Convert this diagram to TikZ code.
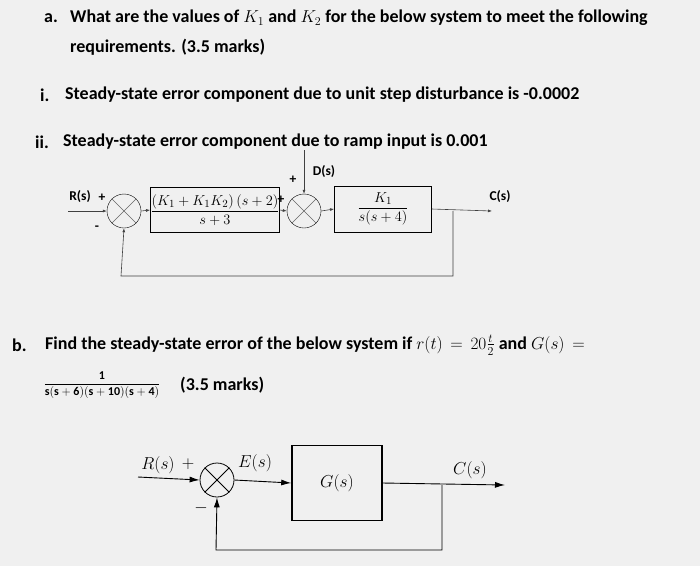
\documentclass[tikz,border=0pt]{standalone}
\usepackage{amsmath}
\usepackage{fontspec}
\setmainfont{Carlito}
\newfontfamily\tms{Liberation Serif}
\usetikzlibrary{arrows.meta}
\begin{document}
\begin{tikzpicture}[x=1pt,y=-1pt,
  txt/.style={anchor=west,inner sep=0,font=\fontsize{18}{20}\selectfont\bfseries},
  lbl/.style={inner sep=0,font=\fontsize{13.5}{15}\selectfont\bfseries},
  blk/.style={draw,thick,inner sep=0,font=\fontsize{15}{17}\selectfont},
  sumc/.style={draw,circle,minimum size=34pt,inner sep=0},
  ln/.style={draw=black!75,line width=0.6pt},
  arr/.style={ln,-{Latex[length=4pt]}},
  tl/.style={inner sep=0,font=\tms\fontsize{18}{20}\selectfont},
  tarr/.style={line width=0.9pt,-{Latex[length=10pt,width=6pt]}}]
\path[fill=gray!12] (0,0) rectangle (700,566);
\node[txt] at (44,18) {a.};
\node[txt] (qa) at (70,18) {What are the values of $K_1$ and $K_2$ for the below system to meet the following};
\node[txt] at (70,47) {requirements. (3.5 marks)};
\node[txt] at (40,95) {i.};
\node[txt] at (65,95) {Steady-state error component due to unit step disturbance is -0.0002};
\node[txt] at (35,142) {ii.};
\node[txt] at (63,142) {Steady-state error component due to ramp input is 0.001};
% diagram a
\node[sumc] (s1) at (124,211) {};
\draw[black!60] (s1.north west)--(s1.south east) (s1.north east)--(s1.south west);
\node[sumc] (s2) at (304,211) {};
\draw[black!60] (s2.north west)--(s2.south east) (s2.north east)--(s2.south west);
\node[blk,minimum width=120pt,minimum height=45pt] (b1) at (215,210) {$\dfrac{(K_1+K_1K_2)\,(s+2)}{s+3}$};
\node[blk,minimum width=97pt,minimum height=46pt] (b2) at (383,209) {$\dfrac{K_1}{s(s+4)}$};
\coordinate (rin) at (68,211);
\coordinate (dtop) at (304,150);
\coordinate (cout) at (492,211);
\coordinate (br) at (453,211);
\coordinate (fb1) at (453,276);
\coordinate (fb2) at (121,276);
\draw[arr] (rin) -- (s1.west);
\draw[arr] (s1.east) -- (b1.west);
\draw[arr] (b1.east) -- (s2.west);
\draw[arr] (dtop) -- (s2.north);
\draw[arr] (s2.east) -- (b2.west);
\draw[arr] (b2.east) -- (cout);
\draw[arr] (br) -- (fb1) -- (fb2) -- (s1.south);
\node[lbl] at (80,197) {R(s)};
\node[lbl] at (102,198) {+};
\node[lbl] at (97,228) {-};
\node[lbl] at (281,200) {+};
\node[lbl] at (293,180) {+};
\node[lbl] at (324,172) {D(s)};
\node[lbl] at (500,197) {C(s)};
% part b
\node[txt] at (12,345) {b.};
\node[txt] at (45,345) {Find the steady-state error of the below system if $r(t)\,=\,20\frac{t}{2}$ and $G(s)\,=$};
\node[inner sep=0,font=\fontsize{12}{14}\selectfont] at (102,385) {$\dfrac{\mathbf{1}}{\mathbf{s(s+6)(s+10)(s+4)}}$};
\node[txt] at (180,385) {(3.5 marks)};
% diagram b
\node[draw,circle,minimum size=34pt,inner sep=0,line width=0.8pt] (s3) at (217,480) {};
\draw[line width=0.8pt] (s3.north west)--(s3.south east) (s3.north east)--(s3.south west);
\node[draw,line width=1.6pt,minimum width=90pt,minimum height=75pt,inner sep=0] (g) at (337,483) {};
\node[tl] at (337,483) {$G(s)$};
\coordinate (rin2) at (138,477);
\coordinate (cout2) at (505,485);
\coordinate (br2) at (442,485);
\coordinate (fb3) at (442,550);
\coordinate (fb4) at (216,550);
\draw[tarr] (rin2) -- (s3.west);
\draw[tarr] (s3.east) -- (g.west);
\draw[tarr] (g.east) -- (cout2);
\draw[tarr] (br2) -- (fb3) -- (fb4) -- (s3.south);
\node[tl] at (158,465) {$R(s)$};
\node[tl] at (188,464) {$+$};
\node[tl] at (255,463) {$E(s)$};
\node[tl] at (470,470) {$C(s)$};
\node[tl] at (201,508) {$-$};
\end{tikzpicture}
\end{document}
